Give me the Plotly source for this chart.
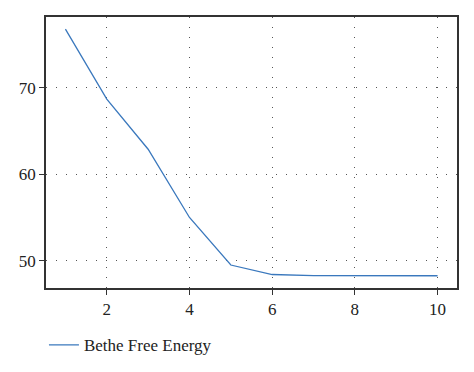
import plotly.graph_objects as go

iterations = [1, 2, 3, 4, 5, 6, 7, 8, 9, 10]
bethe_free_energy = [76.8, 68.7, 62.9, 55.0, 49.5, 48.4, 48.28, 48.26, 48.26, 48.26]
series_name = "Bethe Free Energy"

FONT = "Liberation Serif"

fig = go.Figure()
fig.add_trace(go.Scatter(
    x=iterations, y=bethe_free_energy, mode="lines", name=series_name,
    line=dict(color="#3a78bd", width=1.3),
))

axis_common = dict(
    showline=True, mirror=True, linecolor="#333333", linewidth=1.5,
    ticks="outside", ticklen=5, tickwidth=1.2, tickcolor="#333333",
    showgrid=True, gridcolor="#555555", gridwidth=1, griddash="1px,9px",
    zeroline=False, automargin=False,
    tickfont=dict(family=FONT, size=17, color="#222222"),
)

fig.update_xaxes(range=[0.53, 10.47], tickvals=[2, 4, 6, 8, 10], **axis_common)
fig.update_yaxes(range=[46.84, 78.2], tickvals=[50, 60, 70], **axis_common)

fig.update_layout(
    width=474, height=372,
    margin=dict(l=46, r=17, t=17, b=84, autoexpand=False),
    paper_bgcolor="white", plot_bgcolor="white",
    showlegend=True,
    legend=dict(
        orientation="h", x=-0.005, xanchor="left", y=-0.145, yanchor="top",
        font=dict(family=FONT, size=17, color="#222222"),
        bgcolor="rgba(0,0,0,0)",
    ),
)

fig.write_html("out.html")
